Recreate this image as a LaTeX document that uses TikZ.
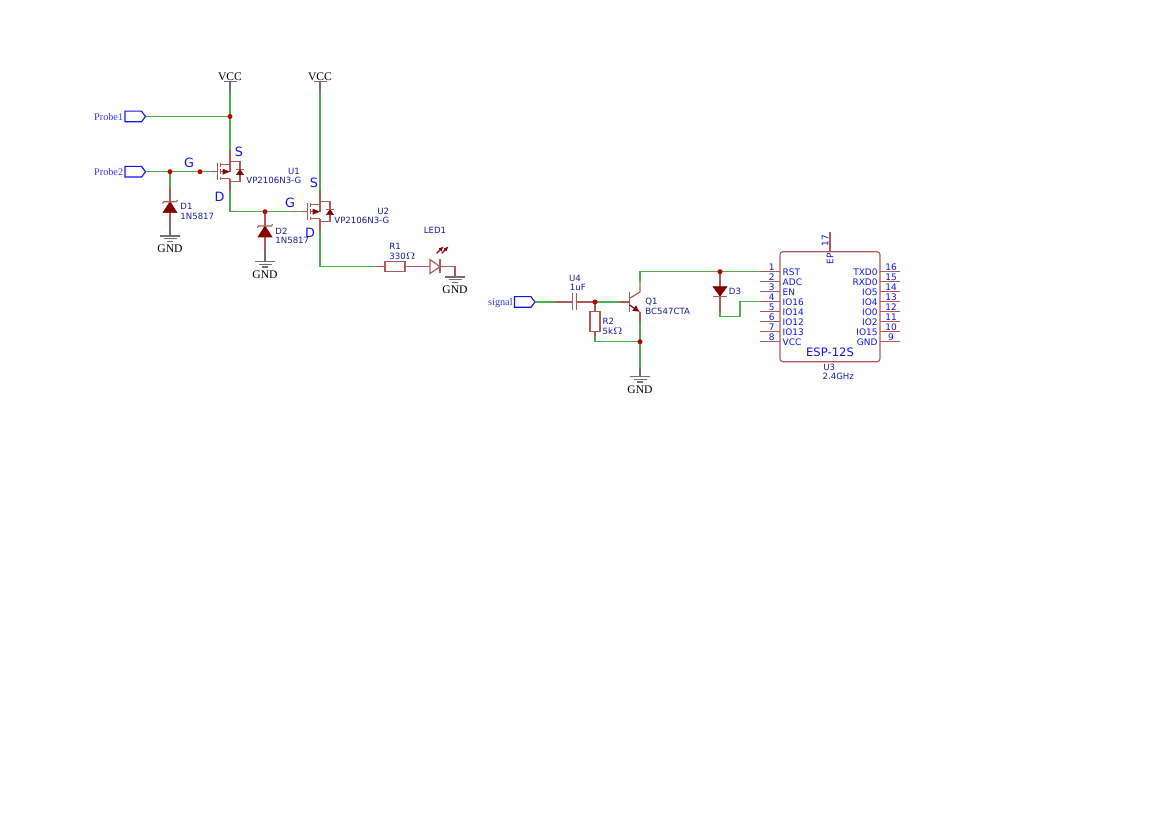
\documentclass[tikz,border=0pt]{standalone}
\usepackage{fontspec}
\setsansfont{DejaVu Sans}
\setmainfont{Liberation Serif}
\usetikzlibrary{arrows.meta, calc}

\definecolor{wirecol}{HTML}{4CAE4C}
\definecolor{partcol}{HTML}{AE5A5A}
\definecolor{fillcol}{HTML}{840000}
\definecolor{stemcol}{HTML}{707070}
\definecolor{refcol}{HTML}{1A1A9A}
\definecolor{pincol}{HTML}{1414E6}

\tikzset{
    wire/.style={draw=wirecol, line width=0.6pt},
    part/.style={draw=partcol, line width=0.6pt},
    solid part/.style={draw=fillcol, fill=fillcol, line width=0.3pt},
    stem/.style={draw=stemcol, line width=0.6pt},
    jdot/.style={fill=fillcol!55!red},
    reflabel/.style={inner sep=0pt, text=refcol, font=\sffamily\fontsize{4.3}{5}\selectfont},
    pinname/.style={inner sep=0pt, text=pincol, font=\sffamily\fontsize{4.5}{5}\selectfont},
    pinnum/.style={inner sep=0pt, text=pincol, font=\sffamily\fontsize{4.5}{5}\selectfont},
    bigletter/.style={inner sep=0pt, text=pincol, font=\sffamily\fontsize{6.4}{7}\selectfont},
    netlabel/.style={inner sep=0pt, text=black, font=\rmfamily\fontsize{5.8}{7}\selectfont},
    portlabel/.style={inner sep=0pt, anchor=east, text=pincol!85!white, font=\rmfamily\fontsize{5.1}{6}\selectfont},
}

% #1 name, #2 x (source/drain line), #3 y (gate line)
\newcommand{\pmosfet}[3]{
    \begin{scope}[shift={(#2,#3)}]
        \coordinate (#1s) at (0,-21.7);
        \coordinate (#1d) at (0,19.7);
        \coordinate (#1g) at (-20.5,0);
        \draw[part] (-20.5,0) -- (-12.5,0);
        \draw[part] (-12.5,-9) -- (-12.5,8.5);
        \draw[part] (-9.5,-9) -- (-9.5,-5);
        \draw[part] (-9.5,-2.5) -- (-9.5,2.5);
        \draw[part] (-9.5,5) -- (-9.5,8.5);
        \draw[part] (-9.5,-7) -- (0,-7) (0,-21.7) -- (0,-7);
        \draw[part] (-9.5,7) -- (0,7) (0,7) -- (0,19.7);
        \draw[part] (-9.5,0) -- (0,0) -- (0,-10) -- (10,-10) -- (10,10) -- (0,10);
        \fill[solid part] (-7,-2.5) -- (-7,2.5) -- (-1,0) -- cycle;
        \fill[solid part] (6.5,3) -- (13.5,3) -- (10,-2) -- cycle;
        \draw[part] (6,-2.5) -- (14,-2.5);
    \end{scope}
}
% #1 name, #2 x, #3 y of the top bar
\newcommand{\gndbars}[3]{
    \coordinate (#1) at (#2,#3);
    \draw[stem] (#2-10,#3) -- (#2+10,#3);
    \draw[stem] (#2-6.5,#3+2.7) -- (#2+6.5,#3+2.7);
    \draw[stem] (#2-3,#3+5.4) -- (#2+3,#3+5.4);
    \node[netlabel] (#1txt) at (#2,#3+12.7) {GND};
}
% #1 name, #2 x, #3 y of the bar
\newcommand{\vccbar}[3]{
    \coordinate (#1) at (#2,#3);
    \draw[stem] (#2-6.5,#3) -- (#2+6.5,#3);
    \node[netlabel] (#1txt) at (#2,#3-5.3) {VCC};
}
% #1 name, #2 left x, #3 y, #4 text
\newcommand{\portflag}[4]{
    \draw[draw=pincol, line width=0.55pt] (#2,#3-5.3) -- (#2+16.5,#3-5.3) -- (#2+20.5,#3)
        -- (#2+16.5,#3+5.3) -- (#2,#3+5.3) -- cycle;
    \coordinate (#1) at (#2+20.5,#3);
    \node[portlabel] (#1txt) at (#2-1.5,#3+0.6) {#4};
}
% #1 x, #2 y of the tip, #3 y of the base
\newcommand{\diodetri}[3]{
    \fill[solid part] (#1-7,#3) -- (#1+7,#3) -- (#1,#2) -- cycle;
}

\begin{document}
\begin{tikzpicture}[x=0.5pt, y=-0.5pt]
    \useasboundingbox (0,0) rectangle (1169,828);

    % left part
    \coordinate (jprobe) at (230,116.5);
    \coordinate (jbranch) at (170,171.7);
    \coordinate (jgate) at (200,171.7);
    \coordinate (jdrain) at (265,211.7);
    \coordinate (cdrain) at (230,211.7);
    \coordinate (cled) at (320,266.7);
    \coordinate (rone) at (385,266.7);

    \portflag{probeone}{125}{116.5}{Probe1}
    \portflag{probetwo}{125}{171.7}{Probe2}
    \vccbar{vcca}{230}{81.7}
    \vccbar{vccb}{320}{81.7}
    \pmosfet{ua}{230}{171.7}
    \pmosfet{ub}{320}{211.7}

    \draw[stem] (vcca) -- ++(0,10.3) coordinate (vccaend);
    \draw[stem] (vccb) -- ++(0,10.3) coordinate (vccbend);
    \draw[wire] (vccaend) -- (jprobe);
    \draw[wire] (jprobe) -- (uas);
    \draw[wire] (probeone) -- (jprobe);
    \draw[wire] (probetwo) -- (jbranch);
    \draw[wire] (jbranch) -- (jgate);
    \draw[wire] (jgate) -- (uag);
    \draw[wire] (uad) -- (cdrain) -- (jdrain);
    \draw[wire] (jdrain) -- (ubg);
    \draw[wire] (vccbend) -- (ubs);
    \draw[wire] (ubd) -- (cled) -- (375,266.7) coordinate (rin);

    % D1
    \coordinate (done) at (170,186.7);
    \draw[wire] (jbranch) -- (done);
    \gndbars{gnda}{170}{236}
    \draw[part] (done) -- (170,225.7) coordinate (donee);
    \draw[stem] (donee) -- (gnda);
    \diodetri{170}{201.7}{212.7}
    \draw[part] (162.5,203.5) -- (163.5,201.7) -- (176.5,201.7) -- (177.5,200);
    % D2
    \gndbars{gndb}{265}{261.7}
    \draw[part] (jdrain) -- (265,250) coordinate (dtwoe);
    \draw[stem] (dtwoe) -- (gndb);
    \diodetri{265}{226}{237}
    \draw[part] (257.5,227.8) -- (258.5,226) -- (271.5,226) -- (272.5,224.3);

    % R1 and LED1
    \draw[part] (rin) -- (rone);
    \draw[part] (385,261.7) rectangle (405,271.7);
    \draw[part] (405,266.7) -- (430,266.7);
    \draw[part] (430,259.5) -- (430,273.5) -- (440,266.7) -- cycle;
    \draw[part] (440,259.5) -- (440,273.5);
    \draw[part] (440,266.7) -- (455,266.7) -- (455,277);
    \draw[part, -{Latex[length=2.4pt,width=2.2pt]}, fillcol] (436.7,253.3) -- (443.5,246.5);
    \draw[part, -{Latex[length=2.4pt,width=2.2pt]}, fillcol] (441.7,253.3) -- (448.5,246.5);
    \gndbars{gndc}{455}{277}

    % right part
    \coordinate (jbase) at (595,302);
    \coordinate (jemit) at (640,341.7);
    \coordinate (jrst) at (720,271.7);
    \coordinate (ccoll) at (640,271.7);

    \portflag{sig}{514.5}{302}{signal}
    \draw[wire] (sig) -- (555,302) coordinate (ucin);
    \draw[part] (ucin) -- (572.7,302) (576.7,302) -- (jbase);
    \draw[part] (572.7,293) -- (572.7,310) (576.7,293) -- (576.7,310);
    \draw[wire] (jbase) -- (620,302) coordinate (qin);
    \draw[part] (qin) -- (629.5,302);
    \draw[part] (629.5,292) -- (629.5,312);
    \draw[part] (629.5,298.5) -- (640,292) -- (640,281.7) coordinate (qc);
    \draw[part, -{Latex[length=3.5pt,width=3.5pt]}, fillcol] (629.5,305) -- (640,312);
    \draw[part] (640,312) -- (640,321.7) coordinate (qe);
    \draw[wire] (qc) -- (ccoll) -- (jrst);
    \draw[wire] (qe) -- (jemit);
    \gndbars{gndd}{640}{376.7}
    \draw[wire] (jemit) -- (640,366.7) coordinate (gnddtop);
    \draw[stem] (gnddtop) -- (gndd);

    % R2
    \draw[part] (jbase) -- (595,311.7) (595,331.7) -- (595,336) coordinate (rtwoe);
    \draw[part] (590,311.7) rectangle (600,331.7);
    \draw[wire] (rtwoe) -- (595,341.7) -- (jemit);

    % D3
    \draw[part] (jrst) -- (720,311.7) coordinate (dthreee);
    \diodetri{720}{296}{286.7}
    \draw[part] (713.3,296.3) -- (726.7,296.3);

    % ESP-12S
    \draw[part, rounded corners=1.5pt] (780,251.7) rectangle (880,361.7);
    \draw[part] (830,231.7) -- (830,251.7);
    \foreach \i/\n in {1/RST,2/ADC,3/EN,4/IO16,5/IO14,6/IO12,7/IO13,8/VCC} {
        \coordinate (pl\i) at (760,261.7+10*\i);
        \draw[part] (pl\i) -- ++(20,0);
        \node[pinnum] (pln\i) at (771.7,257+10*\i) {\i};
        \node[pinname, anchor=west] (plt\i) at (782.3,262.2+10*\i) {\n};
    }
    \foreach \i/\n/\k in {16/TXD0/1,15/RXD0/2,14/IO5/3,13/IO4/4,12/IO0/5,11/IO2/6,10/IO15/7,9/GND/8} {
        \coordinate (pr\i) at (900,261.7+10*\k);
        \draw[part] (pr\i) -- ++(-20,0);
        \node[pinnum] (prn\i) at (891,257+10*\k) {\i};
        \node[pinname, anchor=east] (prt\i) at (878,262.2+10*\k) {\n};
    }
    \draw[wire] (jrst) -- (pl1);
    \draw[wire] (dthreee) -- (720,316.7) -- (740,316.7) -- (740,301.7) -- (pl4);

    % junctions
    \foreach \p in {jprobe,jbranch,jgate,jdrain,jbase,jemit,jrst} {
        \fill[jdot] (\p) circle (1.25pt);
    }

    % labels
    \node[bigletter] (usa) at (239,152.3) {S};
    \node[bigletter] (uga) at (189,162.5) {G};
    \node[bigletter] (uda) at (219.5,197) {D};
    \node[bigletter] (usb) at (314,182.5) {S};
    \node[bigletter] (ugb) at (290,202.5) {G};
    \node[bigletter] (udb) at (310,232.5) {D};
    \node[reflabel] (uaref) at (294,171) {U1};
    \node[reflabel, anchor=west] (uaval) at (246,180.7) {VP2106N3-G};
    \node[reflabel] (ubref) at (383.3,211.7) {U2};
    \node[reflabel, anchor=west] (ubval) at (334,220.7) {VP2106N3-G};
    \node[reflabel, anchor=west] (daref) at (180,206) {D1};
    \node[reflabel, anchor=west] (daval) at (180,216) {1N5817};
    \node[reflabel, anchor=west] (dbref) at (275,231.7) {D2};
    \node[reflabel, anchor=west] (dbval) at (275,240.7) {1N5817};
    \node[reflabel, anchor=west] (raref) at (389,246.7) {R1};
    \node[reflabel, anchor=west] (raval) at (389,255.7) {330$\Omega$};
    \node[reflabel] (ledref) at (435,230.7) {LED1};
    \node[reflabel] (ucref) at (575,278) {U4};
    \node[reflabel, anchor=west] (ucval) at (569.5,287.7) {1uF};
    \node[reflabel, anchor=west] (rbref) at (602.3,321.7) {R2};
    \node[reflabel, anchor=west] (rbval) at (602.3,331) {5k$\Omega$};
    \node[reflabel, anchor=west] (qref) at (645,302) {Q1};
    \node[reflabel, anchor=west] (qval) at (645,311) {BC547CTA};
    \node[reflabel, anchor=west] (ddref) at (728.5,291.5) {D3};
    \node[reflabel] (uespref) at (829.3,367) {U3};
    \node[reflabel] (uespval) at (838.3,376.7) {2.4GHz};
    \node[pinnum, rotate=90] (pinep) at (825,240.7) {17};
    \node[pinname, rotate=90] (nameep) at (830,258.5) {EP};
    \node[inner sep=0pt, text=pincol, font=\sffamily\fontsize{5.8}{7}\selectfont] (esptxt) at (830,352) {ESP-12S};
\end{tikzpicture}
\end{document}
